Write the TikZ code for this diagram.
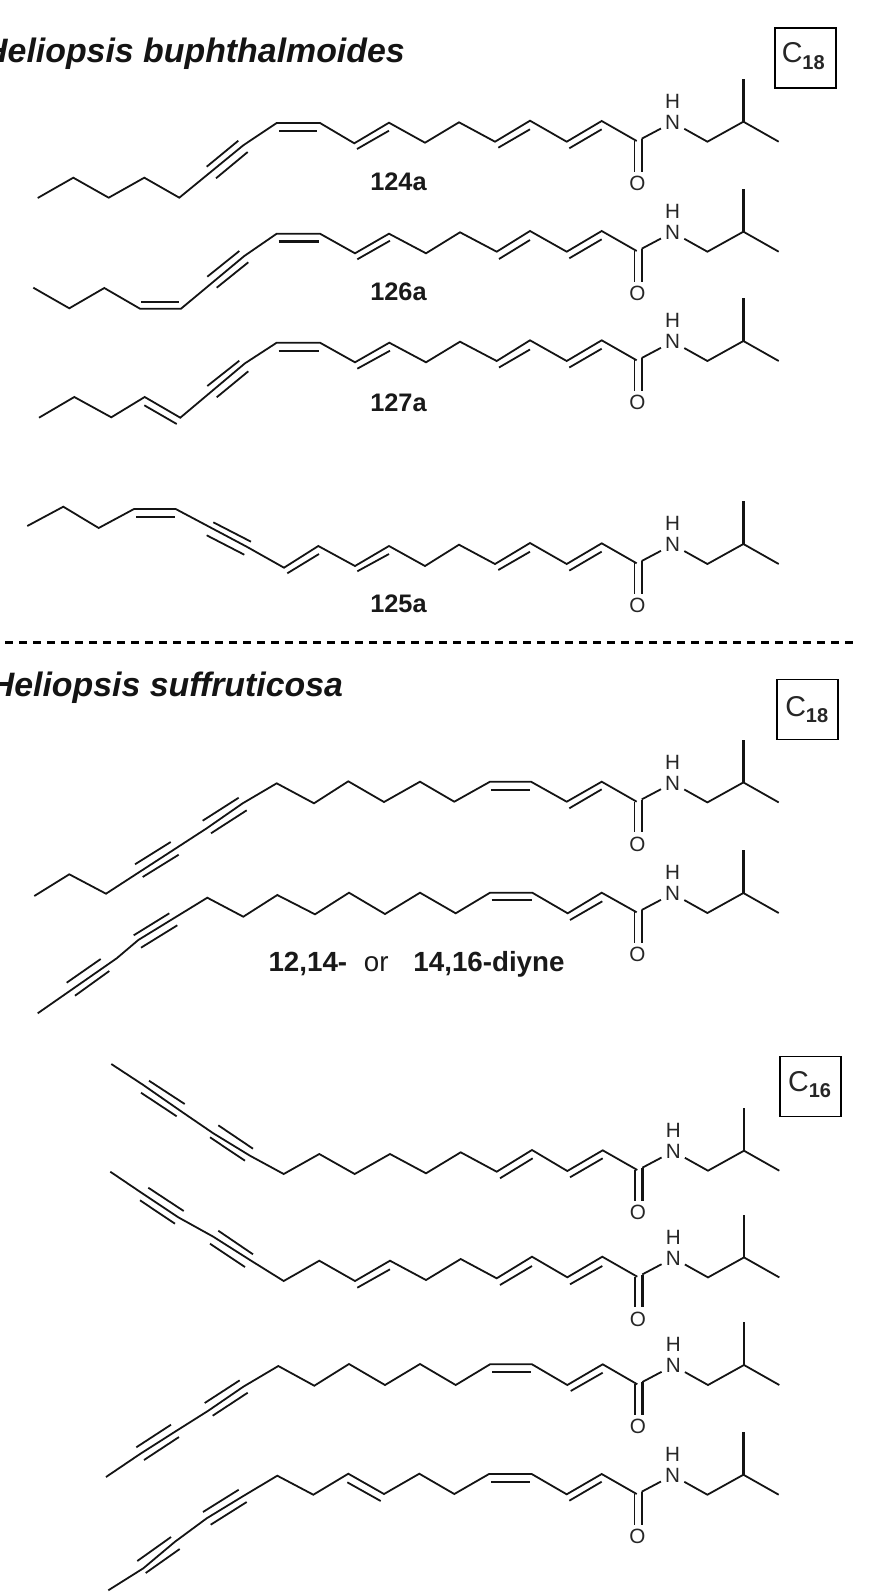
\documentclass[tikz,border=0pt]{standalone}
\usepackage{fontspec}
\setmainfont{Liberation Sans}
\tikzset{
  bond/.style={line width=1.35pt,line join=miter,black!92},
  hbond/.style={line width=1.8pt,black!92},
  atom/.style={shape=circle,inner sep=0pt,minimum size=19.5pt,font=\fontsize{15.5}{15.5}\selectfont,text=black!85},
  cmpd/.style={anchor=base,inner sep=0pt,font=\fontsize{19}{19}\selectfont\bfseries,text=black!90},
  species/.style={anchor=base east,inner sep=0pt,font=\fontsize{25.4}{25.4}\selectfont\bfseries\itshape,text=black!92},
  chainbox/.style={draw,line width=1.2pt,minimum width=46pt,minimum height=45pt,inner sep=0pt},
  chainlabel/.style={anchor=base west,inner sep=0pt,font=\fontsize{21.5}{21.5}\selectfont,text=black!85},
  divider/.style={line width=1.9pt,dash pattern=on 6.3pt off 4.2pt}
}
\newcommand{\carbs}[1]{\raisebox{-5pt}{\fontsize{15}{15}\selectfont\bfseries #1}}
% amide head group: #1 id, (#2,#3) carbonyl carbon
\newcommand{\amide}[3]{%
  \begin{scope}[shift={(#2,#3)}]
    \coordinate (#1C) at (0,0);
    \coordinate (#1Cr) at (5,-2.3);
    \node[atom] (#1N) at (36,-18.7) {N};
    \node[atom] (#1H) at (36,-39.5) {H};
    \node[atom] (#1O) at (.7,42.5) {O};
    \coordinate (#1Ca) at (70.7,.7);
    \coordinate (#1Cb) at (106.7,-19.3);
    \coordinate (#1Me) at (106.7,-62);
    \coordinate (#1Mf) at (142,.7);
    \draw[bond] (#1Cr) -- (#1N);
    \draw[bond] (#1N) -- (#1Ca) -- (#1Cb) -- (#1Mf);
    \draw[hbond] (#1Cb) -- (#1Me);
    \draw[bond] (-2.3,0) -- (-2.3,30.7);
    \draw[hbond] (5,-2) -- (5,30.7);
  \end{scope}}
\newcommand{\bl}[2]{\draw[bond] (#1) -- (#2);}
\newcommand{\bh}[2]{\draw[hbond] (#1) -- (#2);}
\begin{document}
\begin{tikzpicture}[x=.75pt,y=-.75pt]
\useasboundingbox (0,0) rectangle (869,1595);
% titles
\node[species] (t1) at (405,62.3) {Heliopsis buphthalmoides};
\node[species] (t2) at (343.3,696) {Heliopsis suffruticosa};
\draw[divider] (5,642.3) -- (855,642.3);
% boxes
\node[chainbox,line width=1.6pt] (b1) at (805.5,57.9) {};
\node[chainlabel] (bl1) at (781.5,62.7) {C\carbs{18}};
\node[chainbox] (b2) at (807.5,709.3) {};
\node[chainlabel] (bl2) at (785,716) {C\carbs{18}};
\node[chainbox] (b3) at (810.5,1086.3) {};
\node[chainlabel] (bl3) at (787.8,1091) {C\carbs{16}};
% labels
\node[cmpd] (l1) at (398.5,190.7) {124a};
\node[cmpd] (l2) at (398.5,300) {126a};
\node[cmpd] (l3) at (398.5,411) {127a};
\node[cmpd] (l4) at (398.5,612.3) {125a};
\node[inner sep=0pt,anchor=base west,font=\fontsize{20.8}{20.8}\selectfont,text=black!90] (l5) at (268.3,971.7) {\textbf{12,14-}\hspace{.6em}or\hspace{.9em}\textbf{14,16-diyne}};

% --- 124a
\amide{a}{636.7}{141}
\draw[bond] (37.7,198)--(73.3,177.7)--(108.7,197.7)--(144.3,177.7)--(179.3,197.7)--(243.3,145.3)--(276.7,123)--(320,123)--(354.3,143.3)--(389,122.7)--(425,142.7)--(459,122.3)--(495,141.7)--(530,120.7)--(566.7,141.7)--(601.7,121)--(aC);
\bl{206.7,166.7}{238.3,140.7}\bl{216,178.3}{247.7,152}
\bl{279.3,130.7}{317.3,130.7}\bl{357,149}{389,130.7}\bl{498.3,147.7}{530,129.3}\bl{569.3,148.3}{601.7,129.3}
% --- 126a
\amide{b}{636.7}{251}
\draw[bond] (33.3,287.7)--(69.3,308.3)--(104.3,288)--(140,308.7)--(181,308.7)--(244.3,256)--(276.7,233.7)--(320,233.7)--(355,253.3)--(389,233.7)--(426,253.3)--(460,232.3)--(496.7,251.7)--(530,231)--(566.7,251.7)--(601.7,231)--(bC);
\bl{141.3,301.7}{179,301.7}\bl{207.3,276.7}{239.3,251}\bl{216.7,287.7}{248.3,262.3}
\bh{278.7,241.3}{319,241.3}\bl{357.3,259.3}{390,240.7}\bl{499,259}{530,240}\bl{569.3,258.3}{601.7,239.3}
% --- 127a
\amide{c}{636.7}{360.3}
\draw[bond] (39,417.7)--(74.3,397)--(111.3,417.3)--(144.7,397)--(180.3,417.7)--(245,363.3)--(276.7,342.7)--(320,342.7)--(355,362.3)--(389.3,342.7)--(426,362.3)--(460,341.7)--(496.7,361)--(530,340.3)--(566.7,361)--(601.7,340.3)--(cC);
\bl{144.3,405.3}{176.7,424}\bl{207.3,386}{239.3,360.7}\bl{216.7,397.3}{248.3,371.3}
\bh{278.7,350.7}{319,350.7}\bl{357.3,368.7}{390,350.7}\bl{499,367.5}{530,349.5}\bl{569.3,367.5}{601.7,348.7}
% --- 125a
\amide{d}{636.7}{563.3}
\draw[bond] (27.3,526)--(63.3,506.7)--(98.7,528)--(134,509)--(175.7,509)--(246.7,546.7)--(284,567.7)--(318.3,546)--(355,566)--(389,546)--(425,566)--(459,544.7)--(495,564)--(530,543)--(566.7,564)--(601.7,543.3)--(dC);
\bl{136,517}{174.7,517}\bl{213.3,522.3}{251,541.7}\bl{206.7,535.3}{244.3,554.7}
\bl{287.3,573.3}{319,554}\bl{357.3,571.3}{389,554}\bl{498.3,570}{530,551.7}\bl{569.3,570.6}{601.7,551.6}
% --- suffruticosa C18 first
\amide{e}{636.7}{801.7}
\draw[bond] (34.3,896)--(69.3,874.3)--(106,893.7)--(173.3,850)--(206.7,828.3)--(242.7,803.3)--(276.7,783.3)--(314,803.3)--(348.3,781.3)--(384,802)--(420,781.7)--(454.3,801.7)--(490,781.7)--(531,781.7)--(566.7,801.7)--(601.7,781.7)--(eC);
\bl{202.7,820.7}{238.7,797.7}\bl{211,833.3}{246.7,810.3}\bl{135,864.3}{170.7,842}\bl{142.7,877}{178.7,854.7}
\bh{491,789.7}{530,789.7}\bl{569.3,808.3}{601.7,789.3}
% --- suffruticosa C18 second
\amide{f}{636.7}{912.3}
\draw[bond] (37.7,1013.3)--(116.7,958.3)--(138.3,940)--(207.3,897.7)--(243.3,916.7)--(277.3,895)--(315,914.3)--(349,892.7)--(385,914)--(420,892.7)--(455.7,913.3)--(490,892.7)--(532.3,892.7)--(567.7,913.3)--(601.7,892.7)--(fC);
\bl{133.7,935.3}{169.3,913.3}\bl{141,947.7}{177.3,925.3}\bl{66.7,982.7}{100.7,959}\bl{75,995.7}{109.3,971}
\bl{491.7,900.3}{531.7,900.3}\bl{570,920}{602.3,901.3}
% --- C16 first
\amide{g}{637.3}{1170}
\draw[bond] (111.3,1064)--(143.3,1085)--(181.7,1111.7)--(213.3,1133.3)--(250,1155.7)--(283.7,1174)--(319.3,1154)--(354.7,1174)--(390,1154)--(426,1173.3)--(460.7,1152.3)--(496.7,1171.7)--(532,1150)--(567.3,1171)--(602.7,1150.3)--(gC);
\bl{149,1080.7}{184.7,1104}\bl{141,1092.7}{176.7,1116.3}\bl{218.3,1125.3}{253,1148.7}\bl{210,1137.3}{245,1160.7}
\bl{500,1178.3}{532.7,1158.3}\bl{570,1177.3}{602.7,1158.3}
% --- C16 second
\amide{h}{637.3}{1276.7}
\draw[bond] (110.3,1171.7)--(143.3,1194)--(178.3,1217.3)--(213.3,1236.7)--(250,1260)--(283.7,1281)--(319.3,1260.7)--(355,1281)--(390,1260.7)--(426,1280)--(460.7,1259)--(496.7,1278.3)--(532,1256.7)--(567.3,1277.3)--(602.3,1256.7)--(hC);
\bl{148.3,1187.7}{183.7,1211}\bl{140,1200.3}{175,1223.7}\bl{218.3,1230.7}{253,1254.3}\bl{210,1243.7}{245,1267}
\bl{357.3,1287.7}{390,1269.3}\bl{500,1285}{532,1266}\bl{570,1284.3}{602.3,1266}
% --- C16 third
\amide{i}{637.3}{1384.3}
\draw[bond] (106,1477)--(140,1454)--(175,1431.7)--(208.3,1410.7)--(243.3,1386.7)--(278.3,1366)--(314.3,1385.7)--(349,1364)--(385,1385)--(420,1364)--(455.7,1385)--(490,1364.3)--(532,1364.3)--(567.3,1385)--(602.7,1364.3)--(iC);
\bl{204.7,1403}{239.7,1380.3}\bl{212.7,1415.7}{247.7,1392.7}\bl{136.3,1447.3}{171,1424.7}\bl{144,1460}{179,1437}
\bl{492.3,1372}{531,1372}\bl{570.7,1391}{602.7,1372.7}
% --- C16 fourth
\amide{j}{636.7}{1494}
\draw[bond] (108.3,1590.3)--(143.3,1568.3)--(175,1541.7)--(206.7,1518.3)--(243.3,1496)--(277.3,1475.7)--(313.3,1494.7)--(348.3,1473.7)--(384,1494)--(419.3,1473.7)--(454.3,1494)--(489,1474)--(531.7,1474)--(566.7,1494.3)--(601.7,1474)--(jC);
\bl{203,1512}{238.7,1489.7}\bl{210.7,1524.7}{246.7,1502}\bl{137.3,1561}{171,1537}\bl{145.7,1573}{179.7,1549}
\bl{347.3,1482.3}{380.7,1501}\bl{491,1481.7}{530,1481.7}\bl{569.3,1500.7}{601.7,1481.7}
\end{tikzpicture}
\end{document}
